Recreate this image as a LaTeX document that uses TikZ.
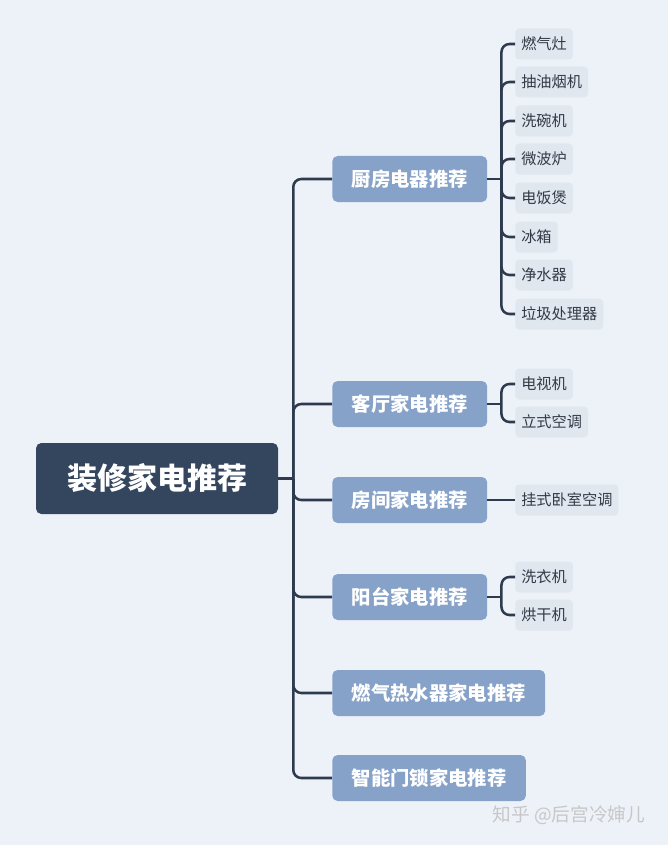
\documentclass[tikz,border=0pt]{standalone}
\usepackage{fontspec}
\setmainfont{Noto Sans CJK SC}
\definecolor{bgcol}{HTML}{EDF2F9}
\definecolor{rootcol}{HTML}{34465E}
\definecolor{catcol}{HTML}{87A2C8}
\definecolor{itemcol}{HTML}{E1E7EF}
\definecolor{linecol}{HTML}{2E3B4E}
\definecolor{txtcol}{HTML}{333A45}
\begin{document}
\begin{tikzpicture}[x=0.75pt,y=-0.75pt,
  rootbox/.style={fill=rootcol,rounded corners=4pt,minimum width=181.5pt,minimum height=53.25pt,text=white,font=\bfseries\fontsize{22.5}{26}\selectfont},
  catbox/.style={fill=catcol,rounded corners=4pt,anchor=west,minimum height=34.5pt,inner xsep=14.6pt,text=white,font=\bfseries\fontsize{14.5}{17}\selectfont},
  itembox/.style={fill=itemcol,rounded corners=3pt,anchor=west,minimum height=23.25pt,inner xsep=4.5pt,text=txtcol,font=\fontsize{11.4}{13}\selectfont},
  link/.style={draw=linecol,line width=1.9pt,rounded corners=6pt}]
  \fill[bgcol] (0,0) rectangle (668,845);
  \useasboundingbox (0,0) rectangle (668,845);
  \node[rootbox] (root) at (157,478.5) {装修家电推荐};
  \coordinate (trunk) at ([xshift=11.25pt]root.east);
  \draw[link] (root.east) -- (trunk);
  \foreach \y/\name/\lab in {179/kitchen/厨房电器推荐, 404/living/客厅家电推荐, 500/bedroom/房间家电推荐, 597/balcony/阳台家电推荐, 693/heater/燃气热水器家电推荐, 778/lock/智能门锁家电推荐} {
    \node[catbox] (\name) at (332,\y) {\lab};
    \draw[link] (trunk) |- (\name.west);
  }
  % forks behind the rooms with several items
  \foreach \cat in {kitchen, living, balcony} {
    \coordinate (\cat-fork) at ([xshift=10.5pt]\cat.east);
    \draw[link] (\cat.east) -- (\cat-fork);
  }
  \foreach \cat/\y/\lab [count=\i] in {kitchen/44/燃气灶, kitchen/82/抽油烟机, kitchen/121/洗碗机, kitchen/159/微波炉, kitchen/198/电饭煲, kitchen/237/冰箱, kitchen/275/净水器, kitchen/314/垃圾处理器, living/384/电视机, living/422/立式空调, balcony/577/洗衣机, balcony/615/烘干机} {
    \node[itembox] (item\i) at (515,\y) {\lab};
    \draw[link] (\cat-fork) |- (item\i.west);
  }
  \node[itembox] (aircon) at (515,500) {挂式卧室空调};
  \draw[link] (bedroom.east) -- (aircon.west);
  \node[text=black!22,font=\fontsize{14}{16}\selectfont] (mark) at (569,815) {知乎 @后宫冷婶儿};
\end{tikzpicture}
\end{document}
